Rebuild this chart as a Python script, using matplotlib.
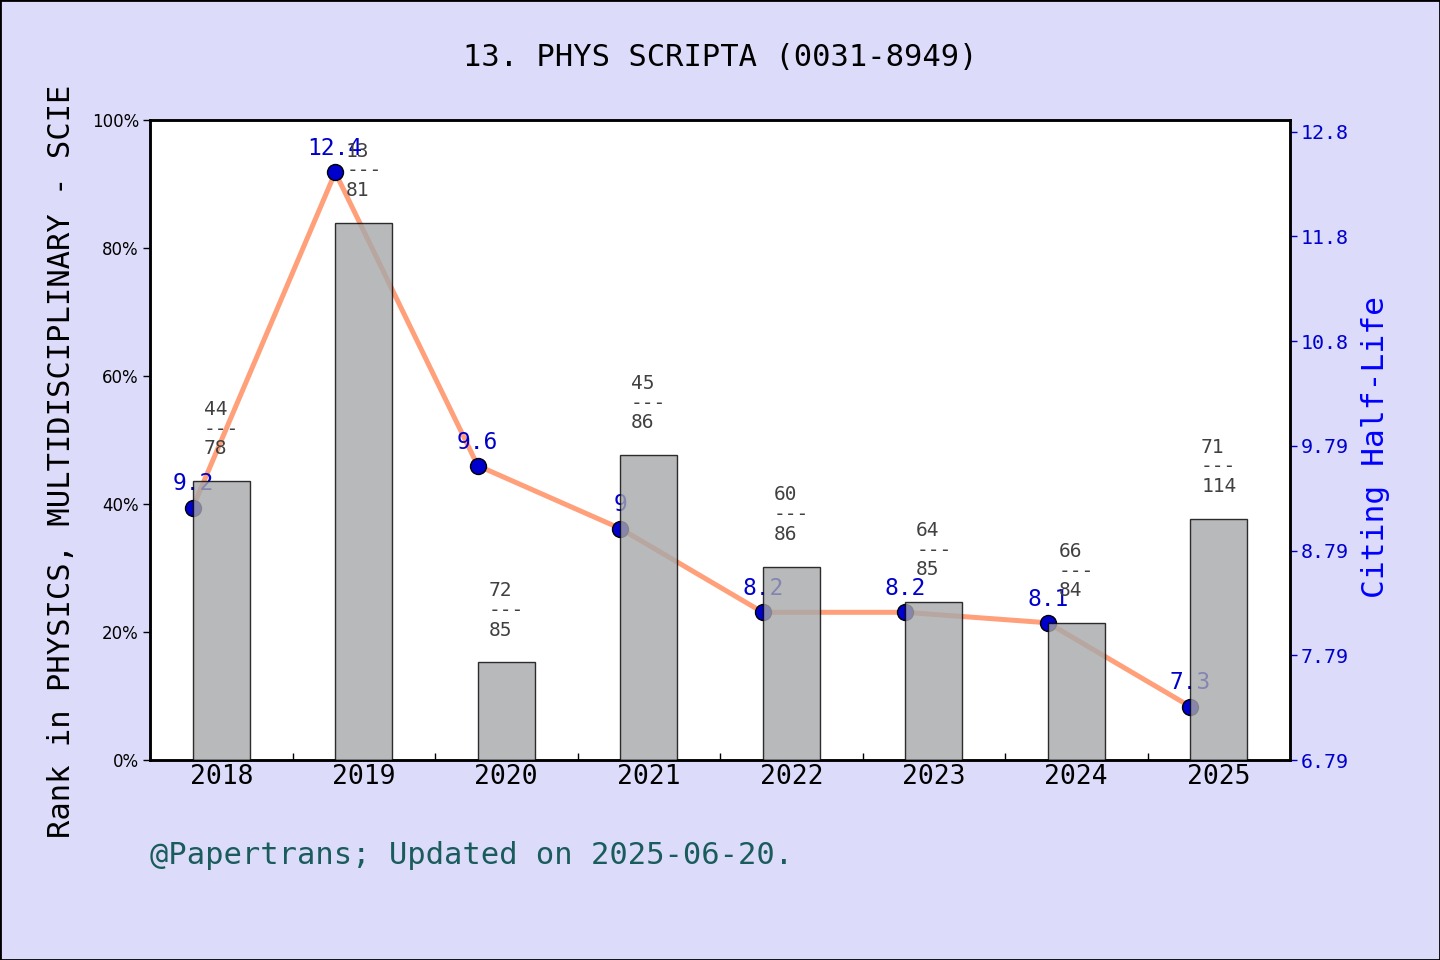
import matplotlib
matplotlib.use("Agg")
import matplotlib.pyplot as plt
from matplotlib.patches import Rectangle

# ---- data ----
years = ["2018", "2019", "2020", "2021", "2022", "2023", "2024", "2025"]
rank_num = [44, 13, 72, 45, 60, 64, 66, 71]
rank_den = [78, 81, 85, 86, 86, 85, 84, 114]
half_life = [9.2, 12.4, 9.6, 9.0, 8.2, 8.2, 8.1, 7.3]
pct_ticks = [0, 20, 40, 60, 80, 100]
pct_labels = ["0%", "20%", "40%", "60%", "80%", "100%"]
right_ticks = [6.79, 7.79, 8.79, 9.79, 10.79, 11.79, 12.79]
right_lim = (6.79, 12.9)

bar_pct = [100.0 * (1 - n / d) for n, d in zip(rank_num, rank_den)]

MONO = "DejaVu Sans Mono"
BG = "#dcdcfa"
BLUE = "#0000cc"

fig = plt.figure(figsize=(14.4, 9.6), dpi=100, facecolor=BG)
ax = fig.add_axes([150 / 1440, 1 - 760 / 960, 1140 / 1440, 640 / 960])
ax2 = ax.twinx()
ax.set_zorder(ax2.get_zorder() + 1)
ax.patch.set_visible(False)
ax2.patch.set_visible(True)
ax2.patch.set_facecolor("white")

xs = list(range(len(years)))
w = 0.4

# line on ax2 (drawn below bars)
lx = [x - w / 2 for x in xs]
ax2.plot(lx, half_life, color="#ffa07a", lw=3.6, zorder=2)
ax2.plot(lx, half_life, "o", color=BLUE, mec="black", mew=1, ms=11.5, zorder=3)
for x, v in zip(lx, half_life):
    ax2.annotate("%g" % v, (x, v), xytext=(0, 17), textcoords="offset points",
                 ha="center", va="center", color=BLUE, fontsize=16.5,
                 family=MONO, zorder=4)
ax2.set_ylim(*right_lim)
ax2.set_yticks(right_ticks)
ax2.set_yticklabels(["%.3g" % t for t in right_ticks])
ax2.tick_params(axis="y", colors=BLUE, labelcolor=BLUE, direction="out",
                length=5, width=1, labelsize=14.4, pad=3)
for lab in ax2.get_yticklabels():
    lab.set_family(MONO)

# bars on ax (drawn on top, semi-transparent)
ax.bar(xs, bar_pct, width=w, color="#a7a8aa", alpha=0.8, edgecolor="black",
       linewidth=1, zorder=3)
for x, h, n, d in zip(xs, bar_pct, rank_num, rank_den):
    ax.text(x, h + 8.1, "%d\n---\n%d" % (n, d), ha="center", va="center",
            multialignment="left", fontsize=14, family=MONO,
            color="#404040", linespacing=1.05, zorder=5)

ax.set_xlim(-0.5, len(years) - 0.5)
ax.set_ylim(0, 100)
ax.set_yticks(pct_ticks)
ax.set_yticklabels(pct_labels)
ax.tick_params(axis="y", direction="out", length=5, width=1, labelsize=12, pad=3)
ax.set_xticks(xs)
ax.set_xticklabels(years, family=MONO, fontsize=19)
ax.set_xticks([x + 0.5 for x in xs[:-1]], minor=True)
ax.tick_params(axis="x", which="major", length=0, pad=3)
ax.tick_params(axis="x", which="minor", direction="in", length=5, width=1)

for a in (ax, ax2):
    for s in a.spines.values():
        s.set_linewidth(1.8)
        s.set_color("black")

fig.text(0.5, 1 - 57 / 960, "13. PHYS SCRIPTA (0031-8949)", ha="center",
         va="center", fontsize=22, family=MONO, color="black")
fig.text(62 / 1440, 1 - 461 / 960, "Rank in PHYSICS, MULTIDISCIPLINARY - SCIE",
         rotation=90, ha="center", va="center", fontsize=22, family=MONO,
         color="black")
fig.text(1375 / 1440, 1 - 447 / 960, "Citing Half-Life", rotation=90,
         ha="center", va="center", fontsize=22.5, family=MONO, color="#0000ff")
fig.text(150 / 1440, 1 - 855 / 960, "@Papertrans; Updated on 2025-06-20.",
         ha="left", va="center", fontsize=22, family=MONO, color="#1a5c5c")

fig.patches.append(Rectangle((0, 0), 1, 1, transform=fig.transFigure,
                             fill=False, edgecolor="black", linewidth=2,
                             zorder=10))

fig.savefig("out.png", dpi=100, facecolor=BG)
